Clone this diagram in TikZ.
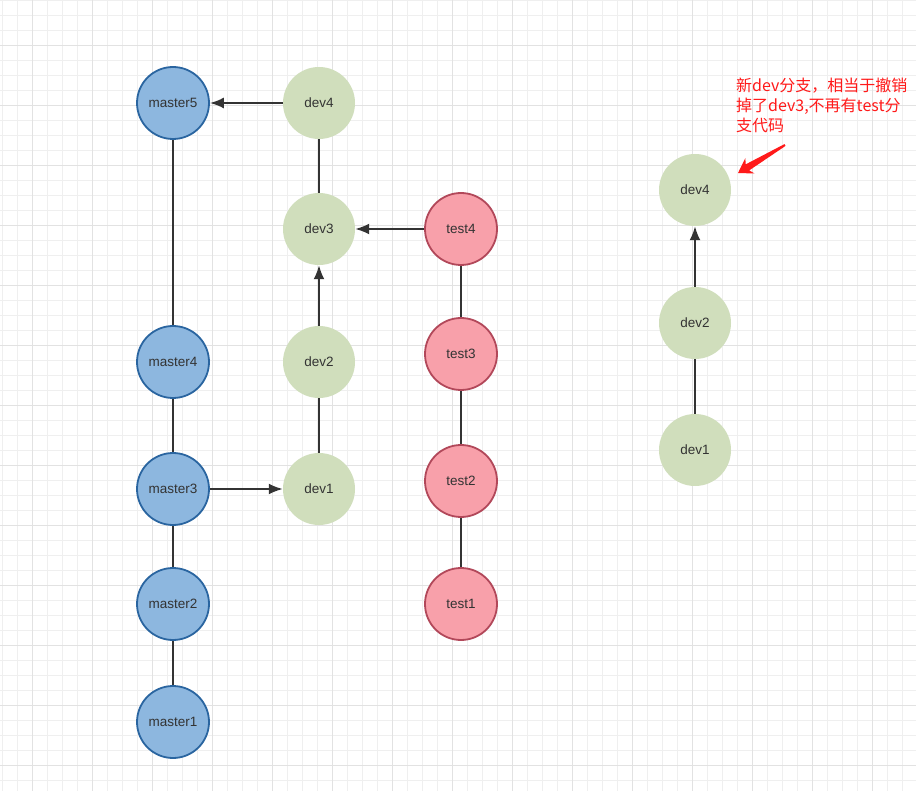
\documentclass[tikz,border=0pt]{standalone}
\usepackage{fontspec}
\setmainfont{Liberation Sans}
\newfontfamily\cjk{Noto Sans CJK SC}
\usepackage{xcolor}
\usetikzlibrary{arrows.meta}

\definecolor{gridminor}{HTML}{EFEFEF}
\definecolor{gridmajor}{HTML}{E2E2E2}
\definecolor{mfill}{HTML}{8DB7DF}
\definecolor{mline}{HTML}{2A65A0}
\definecolor{dfill}{HTML}{D0DEBC}
\definecolor{tfill}{HTML}{F8A0AA}
\definecolor{tline}{HTML}{B2485A}
\definecolor{txt}{HTML}{333333}
\definecolor{note}{HTML}{FF1A1A}

\begin{document}
\begin{tikzpicture}[
    x=1pt, y=-1pt,
    commit/.style={circle, minimum size=72pt, inner sep=0pt, font=\fontsize{13.5}{15}\selectfont, text=txt},
    master/.style={commit, draw=mline, fill=mfill, line width=1.8pt},
    dev/.style={commit, fill=dfill},
    test/.style={commit, draw=tline, fill=tfill, line width=1.8pt},
    link/.style={line width=2pt, color=txt},
    arrow/.style={link, -{Latex[length=14pt, width=11pt]}}
]
\useasboundingbox (0,0) rectangle (916,791);
\fill[white] (0,0) rectangle (916,791);

% Background grid
\foreach \x in {2.7,17.7,...,916} \draw[gridminor, line width=0.8pt] (\x,0) -- (\x,791);
\foreach \y in {0,15,...,791} \draw[gridminor, line width=0.8pt] (0,\y) -- (916,\y);
\foreach \x in {32.7,92.7,...,916} \draw[gridmajor, line width=0.9pt] (\x,0) -- (\x,791);
\foreach \y in {45,105,...,791} \draw[gridmajor, line width=0.9pt] (0,\y) -- (916,\y);

% master branch
\node[master] (m5) at (173,103) {master5};
\node[master] (m4) at (173,362) {master4};
\node[master] (m3) at (173,489) {master3};
\node[master] (m2) at (173,604) {master2};
\node[master] (m1) at (173,722) {master1};

% dev branch
\node[dev] (d4) at (319,103) {dev4};
\node[dev] (d3) at (319,229) {dev3};
\node[dev] (d2) at (319,362) {dev2};
\node[dev] (d1) at (319,489) {dev1};

% test branch
\node[test] (t4) at (461,229) {test4};
\node[test] (t3) at (461,354) {test3};
\node[test] (t2) at (461,481) {test2};
\node[test] (t1) at (461,604) {test1};

% new dev branch
\node[dev] (nd4) at (695,190) {dev4};
\node[dev] (nd2) at (695,323) {dev2};
\node[dev] (nd1) at (695,450) {dev1};

% Note
\node[anchor=base west, align=left, inner sep=0pt, text=note,
      font=\cjk\fontsize{16}{20}\selectfont] (note) at (736,132)
  {新dev分支，相当于撤销\\掉了dev3,不再有test分\\支代码};

% Links
\draw[link] (m5) -- (m4);
\draw[link] (m4) -- (m3);
\draw[link] (m3) -- (m2);
\draw[link] (m2) -- (m1);
\draw[link] (d4) -- (d3);
\draw[link] (d2) -- (d1);
\draw[link] (t4) -- (t3);
\draw[link] (t3) -- (t2);
\draw[link] (t2) -- (t1);
\draw[link] (nd2) -- (nd1);

% Arrows
\draw[arrow] (d4) -- (m5);
\draw[arrow] (t4) -- (d3);
\draw[arrow] (d2) -- (d3);
\draw[arrow] (m3) -- (d1);
\draw[arrow] (nd2) -- (nd4);

% Red pointer to new dev4
\coordinate (tail) at (785,145);
\coordinate (tip) at (738,173);
\fill[note] (tip) -- (745.4,158.1) -- (745.6,164.4) -- (784.5,144.1) -- (785.5,145.9)
  -- (749.2,170.4) -- (754.6,173.5) -- cycle;

\end{tikzpicture}
\end{document}
